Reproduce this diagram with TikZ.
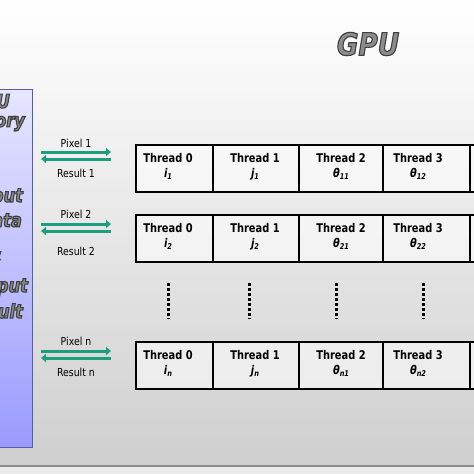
\documentclass[tikz,border=0pt]{standalone}
\usepackage{fontspec}
\setmainfont[FakeStretch=0.85]{DejaVu Sans}
\newfontfamily\tfont[FakeStretch=0.82]{DejaVu Sans}
\usetikzlibrary{arrows.meta}
\definecolor{tealA}{HTML}{1E9E7C}
\definecolor{boxtop}{HTML}{E6E6FF}
\definecolor{boxbot}{HTML}{9A9AFF}
\definecolor{boxedge}{HTML}{5A5AAA}
\newcommand\vsub[2]{{\tfont\bfseries\itshape #1\raisebox{-2.5pt}{\fontsize{8}{8}\selectfont #2}}}
\newcommand\otext[1]{{\color{black!45}\special{pdf:literal direct 2 Tr 1.1 w 0.25 0.25 0.25 RG}#1\special{pdf:literal direct 0 Tr}}}
\tikzset{
  cell/.style={draw=black, line width=1.6pt, fill=white, fill opacity=0.55, text opacity=1, inner sep=0pt},
  thr/.style={font=\tfont\fontsize{12}{12}\selectfont\bfseries, inner sep=0pt},
  var/.style={font=\fontsize{12}{12}\selectfont, inner sep=0pt},
  lbl/.style={font=\fontsize{11}{11}\selectfont, inner sep=0pt},
  arr/.style={draw=tealA, line width=3pt, -{Triangle[length=5pt,width=8pt]}},
  dotcol/.style={draw=black, line width=3pt, dash pattern=on 3pt off 2pt},
  side/.style={font=\fontsize{19}{19}\selectfont\bfseries\itshape, inner sep=0pt, anchor=east},
}
\begin{document}
\begin{tikzpicture}[x=1pt,y=-1pt]
\useasboundingbox (0,0) rectangle (474,474);
\clip (0,0) rectangle (474,474);
% background panel
\fill[black!8] (0,0) rectangle (474,474);
\shade[top color=white, middle color=black!6, bottom color=black!19] (0,0) rectangle (474,466);
\draw[black!45, line width=1.5pt] (0,466) -- (474,466);
% left memory box
\node[draw=boxedge, line width=1pt, top color=boxtop, bottom color=boxbot, minimum width=36pt, minimum height=358pt, anchor=north west, inner sep=0pt] (cpu) at (-4,89) {};
\node[side] (s1) at (10,101) {\otext{CPU}};
\node[side] (s2) at (25,122) {\otext{Memory}};
\node[side] (s3) at (23,197) {\otext{Input}};
\node[side] (s4) at (22,220) {\otext{Data}};
\node[side] (s5) at (2,253) {\otext{\&}};
\node[side] (s6) at (28,287) {\otext{Output}};
\node[side] (s7) at (23,311) {\otext{Result}};
% GPU title
\node[font=\fontsize{31}{31}\selectfont\bfseries\itshape, inner sep=0pt] (gpu) at (368,44) {\otext{GPU}};
% rows
\foreach \r/\t/\a/\b/\c/\d in {1/144/1/1/11/12, 2/214/2/2/21/22, n/341/n/n/n1/n2}{
  \node[cell, minimum width=77pt, minimum height=47pt, anchor=north west] (c\r0) at (135,\t) {};
  \node[cell, minimum width=86pt, minimum height=47pt, anchor=north west] (c\r1) at (212,\t) {};
  \node[cell, minimum width=84pt, minimum height=47pt, anchor=north west] (c\r2) at (298,\t) {};
  \node[cell, minimum width=87pt, minimum height=47pt, anchor=north west] (c\r3) at (382,\t) {};
  \node[cell, minimum width=91pt, minimum height=47pt, anchor=north west] (c\r4) at (469,\t) {};
  \node[thr] (t\r0) at (168,\t+14) {Thread 0};
  \node[thr] (t\r1) at (255,\t+14) {Thread 1};
  \node[thr] (t\r2) at (341,\t+14) {Thread 2};
  \node[thr] (t\r3) at (418,\t+14) {Thread 3};
  \node[var] (v\r0) at (168,\t+30) {\vsub{i}{\a}};
  \node[var] (v\r1) at (255,\t+30) {\vsub{j}{\b}};
  \node[var] (v\r2) at (341,\t+30) {\vsub{θ}{\c}};
  \node[var] (v\r3) at (418,\t+30) {\vsub{θ}{\d}};
}
% pixel/result labels and arrows
\foreach \r/\py/\ay/\by/\ry in {1/143/152/159/173, 2/214/224/231/251, n/341/351/358/372}{
  \node[lbl] (p\r) at (76,\py) {Pixel \r};
  \node[lbl] (res\r) at (76,\ry) {Result \r};
  \coordinate (pa\r) at (41,\ay);
  \coordinate (pb\r) at (111,\ay);
  \coordinate (ra\r) at (41,\by);
  \coordinate (rb\r) at (111,\by);
  \draw[arr] (pa\r) -- (pb\r);
  \draw[arr] (rb\r) -- (ra\r);
}
% vertical dots
\foreach \i/\x in {0/168,1/249,2/336,3/423}{
  \coordinate (da\i) at (\x,283);
  \coordinate (db\i) at (\x,319);
  \draw[dotcol] (da\i) -- (db\i);
}
\end{tikzpicture}
\end{document}
